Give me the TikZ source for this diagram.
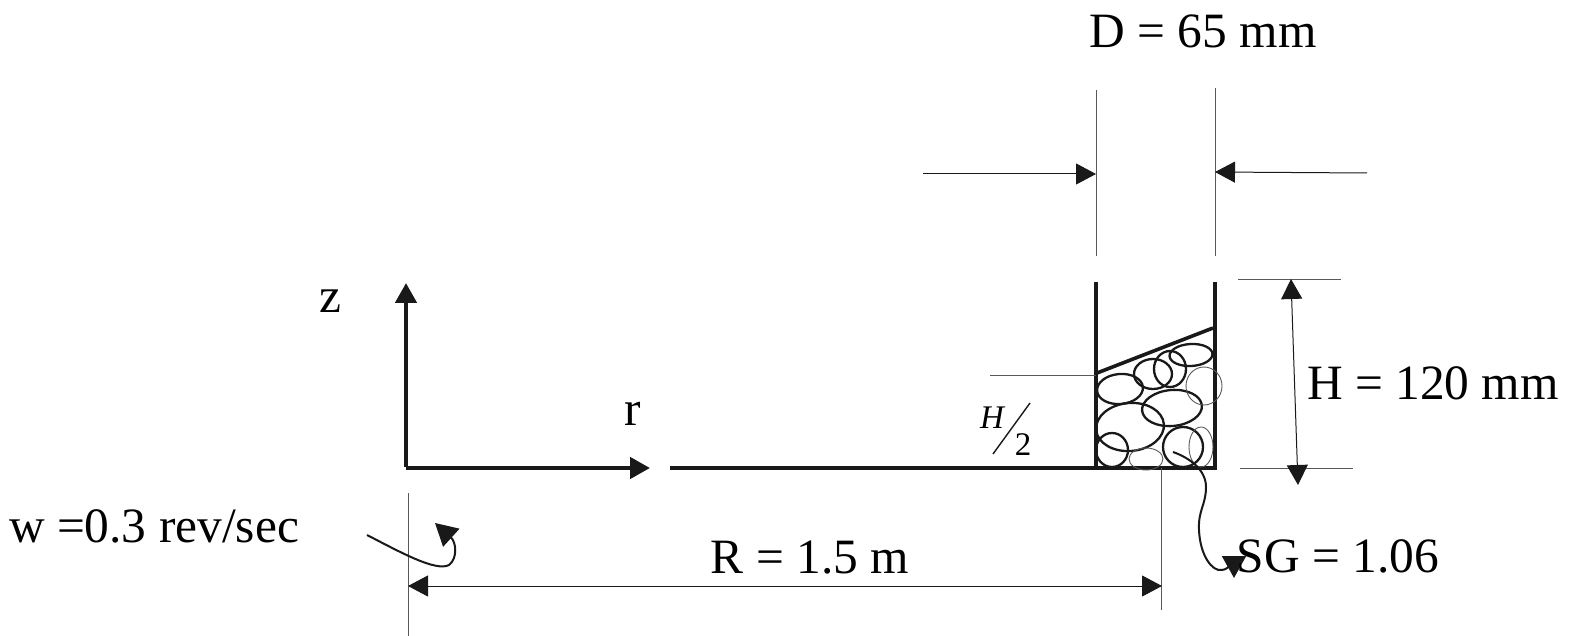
\documentclass[tikz,border=0pt]{standalone}
\usepackage{fontspec}
\setmainfont{Liberation Serif}
\usetikzlibrary{arrows.meta}
\tikzset{
  wall/.style={line width=2.3pt,draw=black!90},
  thinline/.style={line width=0.45pt,draw=black!65},
  dimline/.style={line width=0.5pt,draw=black!90,{Triangle[length=10pt,width=10.5pt]}-{Triangle[length=10pt,width=10.5pt]}},
  dimone/.style={line width=0.5pt,draw=black!90,-{Triangle[length=10pt,width=10.5pt]}},
  axis/.style={wall,-{Triangle[length=10pt,width=10.5pt]}},
  curl/.style={line width=1pt,draw=black!90,-{Triangle[length=11pt,width=12pt]}},
  label/.style={inner sep=0pt,font=\fontsize{24.7}{30}\selectfont},
  smalllabel/.style={inner sep=0pt,font=\fontsize{16.5}{20}\selectfont},
}
\begin{document}
\begin{tikzpicture}[x=0.5pt,y=-0.5pt]

  \useasboundingbox (0,0) rectangle (1581,636);

	%axes
 \coordinate (O) at (406,468);
 \coordinate (zTip) at (406,283);
 \coordinate (rTip) at (650,468);
    \draw[axis] (406,467) -- (zTip);
    \draw[axis] (O) -- (rTip);
    \node[label] (z) at (330,301) {z};
    \node[label] (r) at (633,414) {r};

%basket
 \coordinate (floorL) at (670,468);
 \coordinate (wallL) at (1096,282);
 \coordinate (wallR) at (1215,282);
 \coordinate (floorM) at (1096,468);
 \coordinate (floorR) at (1217,468);
    \draw[wall] (floorL) -- (floorR);
    \draw[wall] (wallL) -- (floorM);
    \draw[wall] (wallR) -- (1215,468);
    \draw[line width=1.8pt,draw=black!90] (1097,373) -- (1213,328);

%grains
    \foreach \x/\y/\rx/\ry/\ang in {1191/355/21.5/11/3, 1170/369/16/18/0, 1153/374/19/15/0,
        1120/389/23/15/5, 1172/408/30/18/5, 1130/427/34/24/5, 1112/450/16/17/0, 1183/447/20/20/0}{
           \draw[line width=1.15pt,draw=black!90,rotate around={\ang:(\x,\y)}] (\x,\y) ellipse[x radius=\rx,y radius=\ry];
    }
    \foreach \x/\y/\rx/\ry in {1204/386/18/19, 1146/459/17/11, 1201/447/12/20}{
           \draw[thinline] (\x,\y) ellipse[x radius=\rx,y radius=\ry];
    }

%D
    \foreach \i/\a/\b/\name in {1096/90/256/dL, 1215/88/256/dR}{
           \draw[thinline] (\i,\a) -- (\i,\b);
    }
 \coordinate (dA) at (923,174);
 \coordinate (dB) at (1096,174);
 \coordinate (dC) at (1367,173);
 \coordinate (dD) at (1215,172);
    \draw[dimone] (dA) -- (dB);
    \draw[dimone] (dC) -- (dD);
    \node[label] (D) at (1203,31) {D = 65 mm};

%H
    \draw[thinline] (1238,279) -- (1341,279);
    \draw[thinline] (1240,468) -- (1353,468);
 \coordinate (hA) at (1291,279);
 \coordinate (hB) at (1298,485);
    \draw[dimline] (hA) -- (hB);
    \node[label] (H) at (1433,383) {H = 120 mm};

%half height
    \draw[thinline] (990,375) -- (1096,375);
    \node[smalllabel] (hh) at (992,418) {\itshape H};
    \draw[line width=0.7pt,draw=black!90] (993,454) -- (1030,403);
    \node[smalllabel] (two) at (1023,445) {2};

%R
    \draw[thinline] (408,493) -- (408,636);
    \draw[thinline] (1161,468) -- (1161,610);
 \coordinate (rA) at (408,586);
 \coordinate (rB) at (1162,586);
    \draw[dimline] (rA) -- (rB);
    \node[label] (R) at (810,558) {R = 1.5 m};

%rotation
 \coordinate (wA) at (367,535);
 \coordinate (wB) at (435,523);
    \draw[curl] (wA) .. controls (400,552) and (436,572) .. (449,565)
       .. controls (458,558) and (456,542) .. (wB);
    \node[label] (w) at (154,526) {w =0.3 rev/sec};

%SG
 \coordinate (sA) at (1173,452);
 \coordinate (sB) at (1234,578);
    \draw[curl] (sA) .. controls (1190,458) and (1206,470) .. (1206,487)
       .. controls (1206,505) and (1198,510) .. (1199,530)
       .. controls (1200,555) and (1212,572) .. (1222,570)
       .. controls (1230,569) and (1234,560) .. (sB);
    \node[label] (sg) at (1338,556) {SG = 1.06};

\end{tikzpicture}
\end{document}
